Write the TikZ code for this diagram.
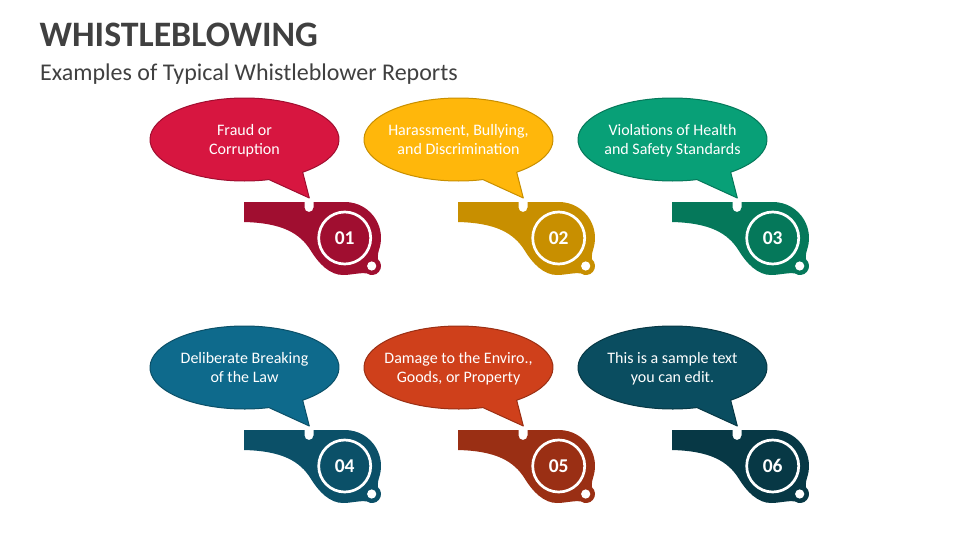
\documentclass[tikz,border=0pt]{standalone}
\usepackage{fontspec}
\setmainfont{Carlito}
\definecolor{redA}{HTML}{D71640}\definecolor{redB}{HTML}{A00E30}
\definecolor{goldA}{HTML}{FFB70B}\definecolor{goldB}{HTML}{C88F00}
\definecolor{greenA}{HTML}{08A077}\definecolor{greenB}{HTML}{05785A}
\definecolor{blueA}{HTML}{0E6A8C}\definecolor{blueB}{HTML}{0B5068}
\definecolor{rustA}{HTML}{CF401B}\definecolor{rustB}{HTML}{9A2F14}
\definecolor{navyA}{HTML}{0A4D60}\definecolor{navyB}{HTML}{073845}
\definecolor{inkgray}{HTML}{404040}
\tikzset{
  bubble/.style = {fill=#1A, draw=#1B, line width=1pt, line join=round},
  bubbletext/.style = {text=white, align=center, inner sep=0pt, text height=30pt, text depth=5pt,
    font=\fontsize{16}{19}\selectfont},
  whistle/.style = {fill=#1B, draw=none},
  numring/.style = {shape=circle, draw=white, line width=2.7pt, minimum size=52pt,
    inner sep=0pt, text=white, font=\fontsize{19.5}{21}\selectfont\bfseries}
}
\begin{document}
\begin{tikzpicture}[x=1pt, y=-1pt]
  \useasboundingbox (0,0) rectangle (960,540);
  \node[anchor=base west, inner sep=0pt, text=inkgray, font=\fontsize{35.8}{40}\selectfont\bfseries] (title) at (39.5,46.5) {WHISTLEBLOWING};
  \node[anchor=base west, inner sep=0pt, text=inkgray, font=\fontsize{24}{28}\selectfont] (subtitle) at (40,81) {Examples of Typical Whistleblower Reports};
  \foreach \px/\py/\tone/\num/\msg in {
    0/0/red/01/{Fraud or\\Corruption},
    214/0/gold/02/{Harassment, Bullying,\\and Discrimination},
    428/0/green/03/{Violations of Health\\and Safety Standards},
    0/228/blue/04/{Deliberate Breaking\\of the Law},
    214/228/rust/05/{Damage to the Enviro.,\\Goods, or Property},
    428/228/navy/06/{This is a sample text\\you can edit.}}
  {
    \begin{scope}[shift={(\px,\py)}]
      % speech bubble
      \draw[bubble=\tone] (244.5,139.5) ++(52:94.5 and 41.5)
        arc[start angle=52, end angle=-285, x radius=94.5, y radius=41.5]
        -- (309.3,198) -- cycle;
      \node[bubbletext] (msg\num) at (244.5,142) {\msg};
      % whistle body
      \fill[whistle=\tone] (244,202) -- (304.5,202) -- (304.5,207.5)
        arc[start angle=180, end angle=0, radius=4.5]
        -- (313.5,202) -- (345,202)
        arc[start angle=-90, end angle=15, radius=36]
        .. controls (378.5,251) and (377.5,255) .. (377.8,259.1)
        arc[start angle=-50, end angle=125, radius=9]
        .. controls (358,272.5) and (352,275) .. (343,275)
        .. controls (330,275) and (319,264) .. (311,251)
        .. controls (300,233) and (282,223) .. (244,222) -- cycle;
      \fill[white] (371.7,266) circle[radius=4.6];
      \node[numring] (num\num) at (344.7,238) {\num};
    \end{scope}
  }
\end{tikzpicture}
\end{document}
